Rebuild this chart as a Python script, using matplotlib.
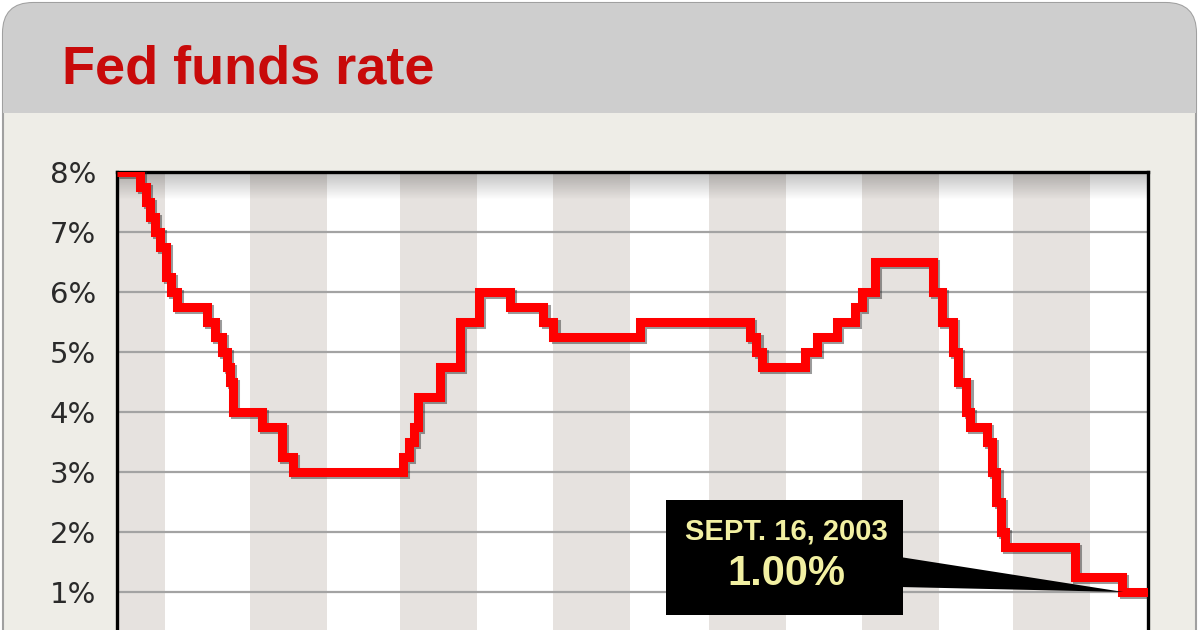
import matplotlib
matplotlib.use("Agg")
import matplotlib.pyplot as plt
import numpy as np
import matplotlib.patheffects as pe
from matplotlib.patches import FancyBboxPatch, Rectangle, Polygon
from matplotlib.transforms import IdentityTransform

# Fed funds rate: step points (decimal year, %)
years = [1990.38, 1990.67, 1990.75, 1990.80, 1990.87, 1990.94, 1991.01, 1991.08,
         1991.16, 1991.55, 1991.65, 1991.74, 1991.81, 1991.85, 1991.88, 1992.26,
         1992.52, 1992.66, 1994.09, 1994.17, 1994.24, 1994.29, 1994.58, 1994.84,
         1995.08, 1995.49, 1995.92, 1996.05, 1997.18, 1998.61, 1998.69, 1998.76,
         1999.32, 1999.48, 1999.74, 1999.97, 2000.06, 2000.23, 2000.99, 2001.10,
         2001.25, 2001.31, 2001.42, 2001.47, 2001.69, 2001.75, 2001.81, 2001.87,
         2001.92, 2002.83, 2003.44, 2003.78]
rates = [8.00, 7.75, 7.50, 7.25, 7.00, 6.75, 6.25, 6.00,
         5.75, 5.50, 5.25, 5.00, 4.75, 4.50, 4.00, 3.75,
         3.25, 3.00, 3.25, 3.50, 3.75, 4.25, 4.75, 5.50,
         6.00, 5.75, 5.50, 5.25, 5.50, 5.25, 5.00, 4.75,
         5.00, 5.25, 5.50, 5.75, 6.00, 6.50, 6.00, 5.50,
         5.00, 4.50, 4.00, 3.75, 3.50, 3.00, 2.50, 2.00,
         1.75, 1.25, 1.00, 1.00]

shaded_years = [1990, 1992.1, 1994.05, 1996.05, 1998.07, 2000.06, 2002.02]
y_ticks = [1, 2, 3, 4, 5, 6, 7, 8]
y_labels = ["1%", "2%", "3%", "4%", "5%", "6%", "7%", "8%"]

title = "Fed funds rate"
note_date = "SEPT. 16, 2003"
note_rate = "1.00%"
note_x = 2003.46
note_y = 1.00

W, H = 1200, 630
fig = plt.figure(figsize=(W / 100, H / 100), dpi=100)
fig.patch.set_facecolor("white")
ident = IdentityTransform()

# рамка панели и серая шапка
panel = FancyBboxPatch((3, -80), 1193, 707, boxstyle="round,pad=0,rounding_size=30",
                       fc="#EEEDE7", ec="#A0A0A0", lw=1.5, transform=ident, zorder=-3)
fig.add_artist(panel)
head = Rectangle((3, H - 113), 1193, 112, fc="#CECECE", ec="none", transform=ident, zorder=-2)
head.set_clip_path(panel)
fig.add_artist(head)

fig.text(62 / W, 1 - 83 / H, title, color="#C80A0A", fontsize=39, fontweight="bold",
         family=["Liberation Sans", "DejaVu Sans"], va="baseline", ha="left")

# оси
ax = fig.add_axes([117 / W, -22 / H, 1031 / W, 480 / H])
ax.set_facecolor("white")
x0, x1 = 1990.376, 2003.78
for yr in shaded_years:
    ax.axvspan(yr, yr + 1, color="#E6E2DF", lw=0, zorder=0)
for v in y_ticks[:-1]:
    ax.axhline(v, color="#A3A3A3", lw=1.6, zorder=1)

# тень под верхней рамкой
grad = np.zeros((50, 2, 4))
grad[..., 3] = np.linspace(0.25, 0, 50)[:, None]
ax.imshow(grad, extent=[x0, x1, 8 - 28 / 60, 8], aspect="auto", zorder=1.5,
          interpolation="bilinear", origin="upper")

ax.plot(years, rates, drawstyle="steps-post", color="#FF0000", lw=6.5,
        solid_joinstyle="miter", solid_capstyle="butt", zorder=3,
        path_effects=[pe.SimpleLineShadow(offset=(1.5, -1.5), shadow_color="#222", alpha=0.45),
                      pe.Normal()])

ax.set_xlim(x0, x1)
ax.set_ylim(0, 8)
ax.set_xticks([])
ax.set_yticks(y_ticks, y_labels)
ax.tick_params(axis="y", length=0, pad=15, labelsize=21, labelcolor="#2A2A2A")
for s in ["left", "top", "right"]:
    ax.spines[s].set_linewidth(2.4)
    ax.spines[s].set_color("black")
ax.spines["bottom"].set_visible(False)

# выноска
tip = ax.transData.transform((note_x, note_y))
box = Rectangle((666, H - 615), 237, 115, fc="black", ec="none", transform=ident, zorder=5)
fig.add_artist(box)
wedge = Polygon([(900, H - 557), (tip[0], tip[1]), (900, H - 587)], closed=True,
                fc="black", ec="none", transform=ident, zorder=5)
fig.add_artist(wedge)
fig.text(786 / W, 1 - 531 / H, note_date, color="#F2F0A2", fontsize=21, fontweight="bold",
         family=["Liberation Sans", "DejaVu Sans"], ha="center", va="center", zorder=6)
fig.text(786 / W, 1 - 574 / H, note_rate, color="#F2F0A2", fontsize=30, fontweight="bold",
         family=["Liberation Sans", "DejaVu Sans"], ha="center", va="center", zorder=6)

fig.savefig("out.png", dpi=100)
